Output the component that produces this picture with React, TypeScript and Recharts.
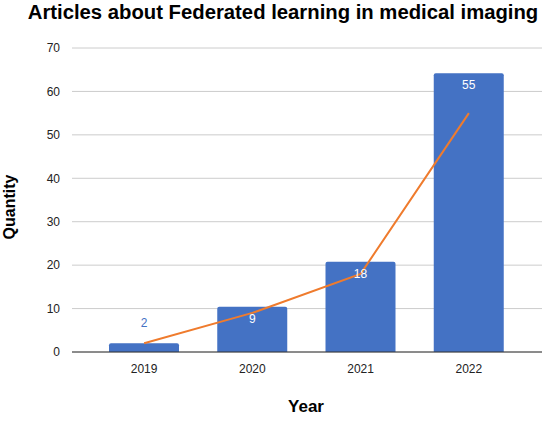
import React from 'react';
import { ComposedChart, Bar, Line, XAxis, YAxis, CartesianGrid, LabelList } from 'recharts';

const years = ['2019', '2020', '2021', '2022'];
const articles = [2, 10.4, 20.8, 64.2];
const trend = [2, 9, 18, 55];
const shownLabels = ['2', '9', '18', '55'];
const yTicks = [0, 10, 20, 30, 40, 50, 60, 70];

const data = years.map((year, i) => ({
  year,
  articles: articles[i],
  trend: trend[i],
  label: shownLabels[i],
}));

const font = 'Arial, "Liberation Sans", sans-serif';

// inside the top of the bar, or above it when the bar is too short
const BarTopLabel = (props: any) => {
  const { x, y, width, height, value } = props;
  const cx = x + width / 2;
  const inside = height > 25;
  return (
    <text
      x={cx}
      y={inside ? y + 12 : y - 20}
      textAnchor="middle"
      dominantBaseline="central"
      fontSize={12}
      fontFamily={font}
      fill={inside ? '#ffffff' : '#4472c4'}
    >
      {value}
    </text>
  );
};

export default function App() {
  return (
    <div style={{ position: 'absolute', left: 0, top: 0, width: 550, height: 421, background: '#fff', fontFamily: font }}>
      <div style={{ position: 'absolute', left: 8, top: 1, width: 550, textAlign: 'center', fontSize: 20.3, fontWeight: 'bold', color: '#000', whiteSpace: 'nowrap' }}>
        Articles about Federated learning in medical imaging
      </div>
      <div style={{ position: 'absolute', left: 0, top: 397, width: 612, textAlign: 'center', fontSize: 17, fontWeight: 'bold', color: '#000' }}>
        Year
      </div>
      <div
        style={{
          position: 'absolute', left: 10, top: 207, fontSize: 16, fontWeight: 'bold', color: '#000',
          transform: 'translate(-50%, -50%) rotate(-90deg)', whiteSpace: 'nowrap',
        }}
      >
        Quantity
      </div>
      <ComposedChart width={550} height={421} data={data} margin={{ top: 48, right: 8, bottom: 39, left: 0 }}>
        <CartesianGrid vertical={false} stroke="#cccccc" />
        <XAxis
          dataKey="year"
          height={30}
          padding={{ left: 18, right: 19 }}
          tickLine={false}
          axisLine={{ stroke: '#333333' }}
          tick={{ fontSize: 12, fill: '#222222', fontFamily: font }}
          tickMargin={6}
        />
        <YAxis
          width={72}
          domain={[0, 70]}
          ticks={yTicks}
          axisLine={false}
          tickLine={false}
          tick={{ fontSize: 12, fill: '#222222', fontFamily: font }}
          tickMargin={6}
        />
        <Bar dataKey="articles" fill="#4472c4" barSize={70} radius={[2, 2, 0, 0]} isAnimationActive={false}>
          <LabelList dataKey="label" content={BarTopLabel} />
        </Bar>
        <Line dataKey="trend" stroke="#ef7b2d" strokeWidth={2} dot={false} activeDot={false} isAnimationActive={false} />
      </ComposedChart>
    </div>
  );
}
